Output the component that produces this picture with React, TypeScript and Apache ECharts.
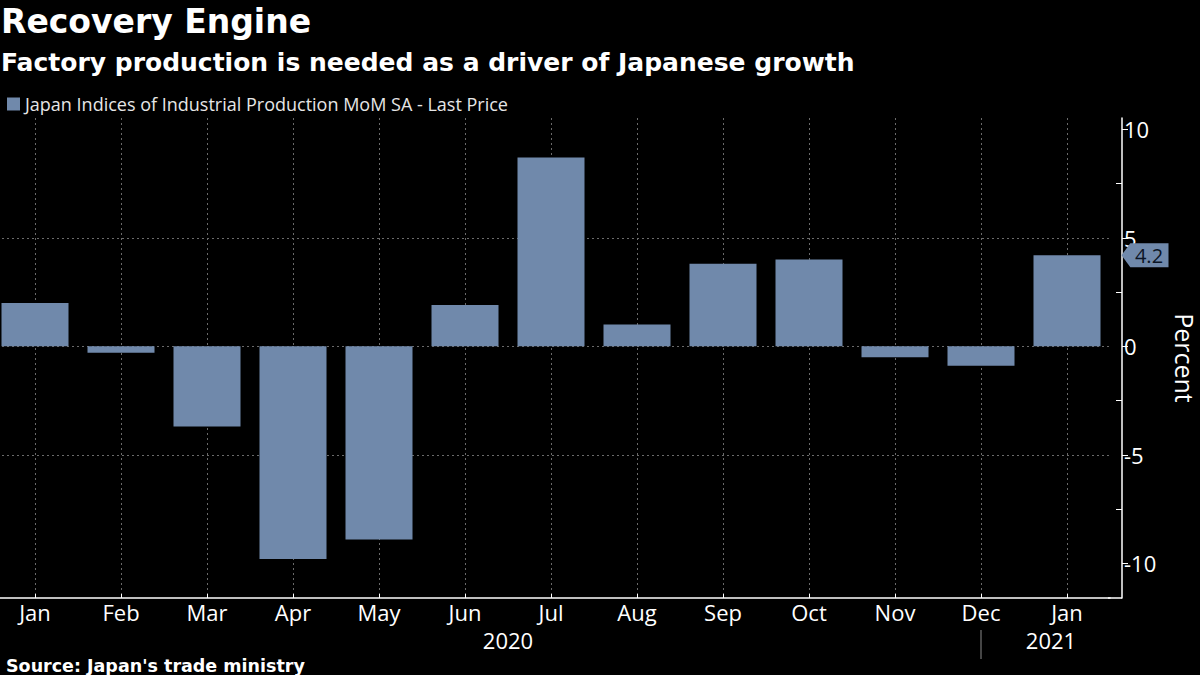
import React, { useEffect, useRef } from "react";
import * as echarts from "echarts";

// Monthly change in Japan's industrial production, Jan 2020 – Jan 2021
const months = ["Jan", "Feb", "Mar", "Apr", "May", "Jun", "Jul", "Aug", "Sep", "Oct", "Nov", "Dec", "Jan"];
const momChange = [2.0, -0.3, -3.7, -9.8, -8.9, 1.9, 8.7, 1.0, 3.8, 4.0, -0.5, -0.9, 4.2];
const majorTicks = [-10, -5, 0, 5, 10];
const minorTicks = [-7.5, -2.5, 2.5, 7.5];
const yearLabels = ["2020", "2021"];

const seriesName = "Japan Indices of Industrial Production MoM SA - Last Price";
const barColor = "#7089ab";
const labelFont = "'Open Sans', 'DejaVu Sans', sans-serif";
const headFont = "'DejaVu Sans', sans-serif";

// The canvas starts 8px left of the page so the first bar's band can bleed off the edge.
const PAD = 8;

export default function App() {
  const ref = useRef<HTMLDivElement>(null);

  useEffect(() => {
    if (!ref.current) return;
    const chart = echarts.init(ref.current, null, { renderer: "svg" });
    const last = momChange.length - 1;

    chart.setOption({
      animation: false,
      backgroundColor: "#000000",
      title: [
        {
          text: "Recovery Engine",
          left: PAD - 4,
          top: 0,
          textStyle: { color: "#ffffff", fontFamily: headFont, fontWeight: "bold", fontSize: 33 },
        },
        {
          text: "Factory production is needed as a driver of Japanese growth",
          left: PAD - 4,
          top: 45,
          textStyle: { color: "#ffffff", fontFamily: headFont, fontWeight: "bold", fontSize: 25 },
        },
        {
          text: "Source: Japan's trade ministry",
          left: PAD + 1,
          top: 652,
          textStyle: { color: "#ffffff", fontFamily: headFont, fontWeight: "bold", fontSize: 17.5 },
        },
      ],
      legend: {
        left: PAD + 2,
        top: 90,
        icon: "rect",
        itemWidth: 13,
        itemHeight: 13,
        itemGap: 6,
        textStyle: { color: "#e6e6e6", fontFamily: labelFont, fontSize: 18 },
        data: [seriesName],
      },
      grid: {
        left: 0,
        right: 90,
        top: 118,
        bottom: 77,
        containLabel: false,
        outerBoundsMode: "none",
      },
      xAxis: {
        type: "category",
        data: months,
        boundaryGap: true,
        axisLine: { show: true, onZero: false, lineStyle: { color: "#ffffff", width: 1.5 } },
        axisTick: { show: true, inside: true, length: 4, alignWithLabel: true, lineStyle: { color: "#ffffff" } },
        axisLabel: { color: "#ffffff", fontFamily: labelFont, fontSize: 22, lineHeight: 20, margin: 4 },
        splitLine: {
          show: true,
          alignWithLabel: true,
          lineStyle: { color: "#6a6a6a", type: [2, 3], width: 1 },
        },
      },
      yAxis: [
        {
          type: "value",
          position: "right",
          offset: 12,
          min: -11.6,
          max: 10.52,
          name: "Percent",
          nameLocation: "middle",
          nameRotate: -90,
          nameGap: 50,
          nameTextStyle: { color: "#ffffff", fontFamily: labelFont, fontSize: 25 },
          axisLine: { show: true, onZero: false, lineStyle: { color: "#ffffff", width: 1.5 } },
          axisTick: { show: true, length: 6, customValues: majorTicks, lineStyle: { color: "#ffffff" } },
          axisLabel: {
            color: "#ffffff",
            fontFamily: labelFont,
            fontSize: 22,
            margin: 2,
            customValues: majorTicks,
          },
          splitLine: {
            show: true,
            showMinLine: false,
            showMaxLine: false,
            lineStyle: { color: "#6a6a6a", type: [2, 3], width: 1 },
          },
        },
        {
          type: "value",
          position: "right",
          offset: 12,
          min: -11.6,
          max: 10.52,
          axisLine: { show: false },
          axisTick: {
            show: true,
            inside: true,
            length: 6,
            customValues: minorTicks,
            lineStyle: { color: "#ffffff" },
          },
          axisLabel: { show: false },
          splitLine: { show: false },
        },
      ],
      series: [
        {
          name: seriesName,
          type: "bar",
          data: momChange,
          barWidth: 67,
          itemStyle: { color: barColor },
          markPoint: {
            symbol: "path://M0,12L9,0L48,0L48,24L9,24Z",
            symbolSize: [47, 24],
            symbolOffset: [78, 0],
            symbolKeepAspect: false,
            itemStyle: { color: barColor },
            label: {
              show: true,
              position: "inside",
              offset: [4, 0],
              color: "#0b1526",
              fontFamily: labelFont,
              fontSize: 20,
              formatter: (p: any) => String(p.value),
            },
            data: [{ coord: [last, momChange[last]], value: momChange[last] }],
          },
        },
      ],
      graphic: [
        // x-axis line continues to the offset value axis
        {
          type: "line",
          shape: { x1: PAD + 1108, y1: 598, x2: PAD + 1122, y2: 598 },
          style: { stroke: "#ffffff", lineWidth: 1.5 },
        },
        // year divider under the axis
        {
          type: "line",
          shape: { x1: PAD + 981, y1: 630, x2: PAD + 981, y2: 659 },
          style: { stroke: "#8a8a8a", lineWidth: 1 },
        },
        {
          type: "text",
          x: PAD + 508,
          y: 630,
          style: {
            text: yearLabels[0],
            fill: "#ffffff",
            font: `22px ${labelFont}`,
            lineHeight: 20,
            textAlign: "center",
            textVerticalAlign: "top",
          },
        },
        {
          type: "text",
          x: PAD + 1051,
          y: 630,
          style: {
            text: yearLabels[1],
            fill: "#ffffff",
            font: `22px ${labelFont}`,
            lineHeight: 20,
            textAlign: "center",
            textVerticalAlign: "top",
          },
        },
      ],
    });

    return () => chart.dispose();
  }, []);

  return (
    <div
      ref={ref}
      style={{ position: "fixed", left: -PAD, top: 0, width: 1200 + PAD, height: 675, background: "#000" }}
    />
  );
}
